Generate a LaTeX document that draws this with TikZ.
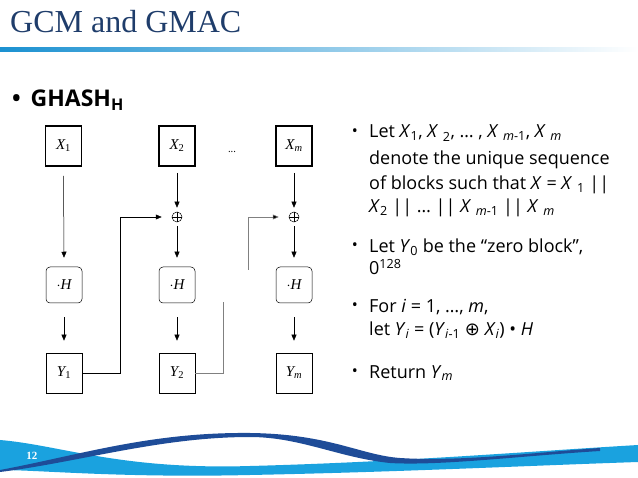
\documentclass[tikz,border=0pt]{standalone}
\usepackage{fontspec}
\setmainfont{Open Sans}
\newfontfamily\tms{Liberation Serif}
\newfontfamily\dvs{DejaVu Sans}
\usetikzlibrary{arrows.meta,shadings,calc}
\definecolor{ttl}{HTML}{1F3D6B}
\definecolor{lblue}{HTML}{1AA2DF}
\definecolor{dblue}{HTML}{1E4C98}
\begin{document}
\begin{tikzpicture}[x=1pt,y=-1pt,
  xbox/.style={draw,line width=1.6pt,minimum width=36pt,minimum height=40pt,inner sep=0pt,font=\tms\itshape\fontsize{15}{15}\selectfont},
  ybox/.style={draw,line width=0.6pt,minimum width=36pt,minimum height=40pt,inner sep=0pt,font=\tms\itshape\fontsize{15}{15}\selectfont},
  hbox/.style={draw,line width=0.5pt,rounded corners=4pt,minimum width=36pt,minimum height=36pt,inner sep=0pt,font=\tms\itshape\fontsize{15}{15}\selectfont},
  xr/.style={circle,draw,line width=0.5pt,minimum size=10pt,inner sep=0pt},
  arr/.style={-{Triangle[length=6pt,width=5pt]},line width=0.5pt},
  txt/.style={anchor=west,inner sep=0pt,font=\fontsize{18}{18}\selectfont},
  bul/.style={inner sep=0pt,font=\fontsize{16}{16}\selectfont}]
\useasboundingbox (0,0) rectangle (638,478);
% title
\node[anchor=west,inner sep=0pt,text=ttl,font=\fontsize{32}{32}\selectfont] (title) at (10,22) {\tms GCM and GMAC};
\shade[left color=lblue!80!dblue,right color=white] (0,48) rectangle (638,52);
\node[anchor=west,inner sep=0pt,font=\bfseries\fontsize{23}{23}\selectfont] (gh) at (12,100) {• \,GHASH\textsubscript{H}};
% diagram
\node[xbox] (x1) at (63.5,146) {X\textsubscript{\upshape 1}};
\node[xbox] (x2) at (177,146) {X\textsubscript{\upshape 2}};
\node[xbox] (xm) at (294,146) {X\textsubscript{m}};
\node[font=\fontsize{10}{10}\selectfont] (dots) at (232,152) {...};
\node[xr] (o2) at (177,217) {};
\node[xr] (om) at (294,217) {};
\draw[line width=0.5pt] (o2.north)--(o2.south) (o2.west)--(o2.east) (om.north)--(om.south) (om.west)--(om.east);
\node[hbox] (h1) at (64,285) {$\cdot$H};
\node[hbox] (h2) at (177,285) {$\cdot$H};
\node[hbox] (hm) at (294,285) {$\cdot$H};
\node[ybox] (y1) at (64,373) {Y\textsubscript{\upshape 1}};
\node[ybox] (y2) at (177,373) {Y\textsubscript{\upshape 2}};
\node[ybox] (ym) at (294,373) {Y\textsubscript{m}};
\draw[arr] ($(x1.south)+(0,9)$) -- ($(h1.north)+(0,-9)$);
\draw[arr] ($(x2.south)+(0,6)$) -- ($(o2.north)+(0,-4)$);
\draw[arr] ($(xm.south)+(0,6)$) -- ($(om.north)+(0,-4)$);
\draw[arr] ($(o2.south)+(0,4)$) -- ($(h2.north)+(0,-9)$);
\draw[arr] ($(om.south)+(0,4)$) -- ($(hm.north)+(0,-9)$);
\draw[arr] ($(h1.south)+(0,14)$) -- ($(y1.north)+(0,-12)$);
\draw[arr] ($(h2.south)+(0,14)$) -- ($(y2.north)+(0,-12)$);
\draw[arr] ($(hm.south)+(0,14)$) -- ($(ym.north)+(0,-12)$);
\draw[arr] (y1.east) -| (120,217) -- ($(o2.west)+(-10,0)$);
\coordinate (g1) at (223,302);
\coordinate (g2) at (248,270);
\draw[gray,line width=0.5pt] (y2.east) -| (g1);
\draw[gray,line width=0.5pt,-{Triangle[length=6pt,width=5pt,fill=black]}] (g2) |- ($(om.west)+(-10,0)$);
% bullets
\foreach \yy in {133,247,307,373} \node[bul] at (355,\yy) {•};
\node[txt] (t1) at (369,133) {Let \textit{X}\textsubscript{1}, \textit{X} \textsubscript{2}, … , \textit{X} \textsubscript{\textit{m}-1}, \textit{X} \textsubscript{\textit{m}}};
\node[txt] (t2) at (369,160) {denote the unique sequence};
\node[txt] (t3) at (369,185) {of blocks such that \textit{X} = \textit{X} \textsubscript{1} ||};
\node[txt] (t4) at (369,208) {\textit{X}\textsubscript{2} || … || \textit{X} \textsubscript{\textit{m}-1} || \textit{X} \textsubscript{\textit{m}}};
\node[txt] (t5) at (369,247) {Let \textit{Y}\textsubscript{0} be the “zero block”,};
\node[txt] (t6) at (369,267) {0\textsuperscript{128}};
\node[txt] (t7) at (369,307) {For \textit{i} = 1, …, \textit{m},};
\node[txt] (t8) at (369,330) {let \textit{Y}\textsubscript{\textit{i}} = (\textit{Y}\textsubscript{\textit{i}-1} {\dvs ⊕} \textit{X}\textsubscript{\textit{i}}) • \textit{H}};
\node[txt] (t9) at (369,373) {Return \textit{Y}\textsubscript{\textit{m}}};
% bottom wave
\fill[lblue] (0,440) .. controls (60,445) and (120,470) .. (250,466) .. controls (400,462) and (520,452) .. (638,445) -- (638,462) .. controls (520,466) and (400,472) .. (250,475) .. controls (120,478) and (40,470) .. (0,470) -- cycle;
\fill[dblue] (0,470) .. controls (80,455) and (150,432) .. (250,433) .. controls (330,434) and (360,455) .. (400,458) .. controls (460,462) and (540,452) .. (600,448) -- (600,451) .. controls (520,456) and (440,466) .. (390,463) .. controls (340,458) and (300,437) .. (250,437) .. controls (160,437) and (80,462) .. (0,472) -- cycle;
\node[text=white,font=\tms\bfseries\fontsize{11}{11}\selectfont] (pg) at (32,456) {12};
\end{tikzpicture}
\end{document}
